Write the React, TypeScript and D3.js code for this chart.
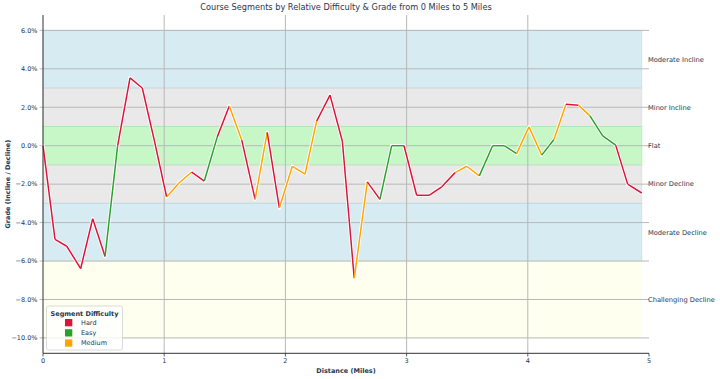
import React from "react";
import * as d3 from "d3";

const distances = [0.0, 0.099, 0.196, 0.311, 0.41, 0.512, 0.616, 0.718, 0.819, 0.918, 1.02, 1.122, 1.227, 1.331, 1.438, 1.537, 1.64, 1.75, 1.85, 1.95, 2.057, 2.162, 2.258, 2.368, 2.47, 2.568, 2.676, 2.78, 2.877, 2.979, 3.083, 3.185, 3.29, 3.4, 3.496, 3.6, 3.71, 3.806, 3.908, 4.01, 4.115, 4.216, 4.315, 4.417, 4.513, 4.618, 4.725, 4.824, 4.94];
const grades = [0.0, -4.87, -5.23, -6.39, -3.8, -5.76, 0.0, 3.53, 3.0, 0.29, -2.67, -1.94, -1.37, -1.84, 0.46, 2.07, 0.29, -2.79, 0.69, -3.24, -1.07, -1.48, 1.28, 2.63, 0.23, -6.89, -1.88, -2.79, 0.0, 0.0, -2.58, -2.58, -2.14, -1.4, -1.07, -1.57, 0.0, 0.0, -0.41, 0.98, -0.49, 0.32, 2.16, 2.11, 1.55, 0.51, 0.03, -2.0, -2.46];
// difficulty of each segment (point i -> point i+1)
const segmentDifficulty = [
  "Hard", "Hard", "Hard", "Hard", "Hard", "Easy", "Hard", "Hard", "Hard", "Hard",
  "Medium", "Medium", "Hard", "Easy", "Hard", "Medium", "Hard", "Medium", "Hard", "Medium",
  "Medium", "Medium", "Hard", "Hard", "Hard", "Medium", "Hard", "Easy", "Easy", "Hard",
  "Hard", "Hard", "Hard", "Medium", "Medium", "Easy", "Easy", "Easy", "Medium", "Medium",
  "Easy", "Medium", "Hard", "Medium", "Easy", "Easy", "Hard", "Hard",
];
const difficultyNames = ["Hard", "Easy", "Medium"];
const difficultyColors = ["#DC143C", "#2ca02c", "#FFA500"];

const bandNames = ["Moderate Incline", "Minor Incline", "Flat", "Minor Decline", "Moderate Decline", "Challenging Decline"];
const bandLow = [3, 1, -1, -3, -6, -10];
const bandHigh = [6, 3, 1, -1, -3, -6];
const bandColors = ["#ADD8E6", "#D3D3D3", "#90EE90", "#D3D3D3", "#ADD8E6", "#FFFFE0"];

const yTicks = [-10, -8, -6, -4, -2, 0, 2, 4, 6];
const xTicks = [0, 1, 2, 3, 4, 5];

const W = 720;
const H = 379;
const FONT = "DejaVu Sans";
const TEXT = "#24364f";

export default function App() {
  const x = d3.scaleLinear().domain([0, 5]).range([43, 649]);
  const y = d3.scaleLinear().domain([-10.8, 6.8]).range([353.3, 15]);
  const colorOf = d3.scaleOrdinal<string, string>().domain(difficultyNames).range(difficultyColors);
  const xEnd = distances[distances.length - 1];

  const segs = segmentDifficulty.map((d, i) => ({
    x1: x(distances[i]), y1: y(grades[i]), x2: x(distances[i + 1]), y2: y(grades[i + 1]), c: colorOf(d),
  }));

  return (
    <svg width={W} height={H} style={{ position: "absolute", left: 0, top: 0, display: "block", background: "#fff" }} fontFamily={FONT}>
      {/* bands */}
      {bandNames.map((n, i) => (
        <rect key={n} x={x(0)} width={x(xEnd) - x(0)} y={y(bandHigh[i])} height={y(bandLow[i]) - y(bandHigh[i])}
          fill={bandColors[i]} fillOpacity={0.5} stroke={bandColors[i]} strokeOpacity={0.5} strokeWidth={1} />
      ))}
      {/* grid */}
      {yTicks.map((t) => (
        <line key={"gy" + t} x1={x(0) - 3.5} x2={x(5)} y1={y(t)} y2={y(t)} stroke="#b8b8b8" strokeWidth={1} />
      ))}
      {xTicks.slice(1, 5).map((t) => (
        <line key={"gx" + t} x1={x(t)} x2={x(t)} y1={15} y2={353.3} stroke="#b8b8b8" strokeWidth={1} />
      ))}
      {/* line: white outline then colour */}
      {segs.map((s, i) => (
        <line key={"w" + i} x1={s.x1} y1={s.y1} x2={s.x2} y2={s.y2} stroke="#fff" strokeWidth={3.2} strokeLinecap="round" />
      ))}
      {segs.map((s, i) => (
        <line key={"c" + i} x1={s.x1} y1={s.y1} x2={s.x2} y2={s.y2} stroke={s.c} strokeWidth={1.5} strokeLinecap="butt" />
      ))}
      {/* spines */}
      <line x1={x(0)} x2={x(0)} y1={15} y2={353.3} stroke="#333" strokeWidth={1} />
      <line x1={x(0)} x2={x(5)} y1={353.3} y2={353.3} stroke="#333" strokeWidth={1} />
      {/* y ticks */}
      {yTicks.map((t) => (
        <text key={"ty" + t} x={37.5} y={y(t)} dy="0.35em" textAnchor="end" fontSize={6.5} fill={TEXT}>
          {d3.format(".1f")(t) + "%"}
        </text>
      ))}
      {/* x ticks */}
      {xTicks.map((t) => (
        <g key={"tx" + t}>
          <line x1={x(t)} x2={x(t)} y1={353.3} y2={356.5} stroke="#333" strokeWidth={0.8} />
          <text x={x(t)} y={363} textAnchor="middle" fontSize={6.5} fill={TEXT}>{t}</text>
        </g>
      ))}
      {/* band labels */}
      {bandNames.map((n, i) => (
        <text key={"bl" + n} x={648} y={y((bandLow[i] + bandHigh[i]) / 2)} dy="0.35em" fontSize={6.7} fill={TEXT}>{n}</text>
      ))}
      {/* title and axis labels */}
      <text x={346} y={10} textAnchor="middle" fontSize={8.2} fill={TEXT}>
        Course Segments by Relative Difficulty &amp; Grade from 0 Miles to 5 Miles
      </text>
      <text x={346} y={373} textAnchor="middle" fontSize={6.5} fontWeight="bold" fill={TEXT}>Distance (Miles)</text>
      <text transform={`translate(9.5,${(15 + 353.3) / 2}) rotate(-90)`} textAnchor="middle" fontSize={6.5} fontWeight="bold" fill={TEXT}>
        Grade (Incline / Decline)
      </text>
      {/* legend */}
      <g>
        <rect x={46.5} y={306} width={76} height={44} rx={2} fill="#fff" fillOpacity={0.8} stroke="#d0d0d0" strokeWidth={0.8} />
        <text x={84.5} y={315.5} textAnchor="middle" fontSize={6.5} fontWeight="bold" fill={TEXT}>Segment Difficulty</text>
        {difficultyNames.map((n, i) => (
          <g key={"lg" + n}>
            <rect x={65} y={319 + i * 10.2} width={7.3} height={7.3} fill={difficultyColors[i]} />
            <text x={81} y={322.7 + i * 10.2} dy="0.35em" fontSize={6.5} fill={TEXT}>{n}</text>
          </g>
        ))}
      </g>
    </svg>
  );
}
